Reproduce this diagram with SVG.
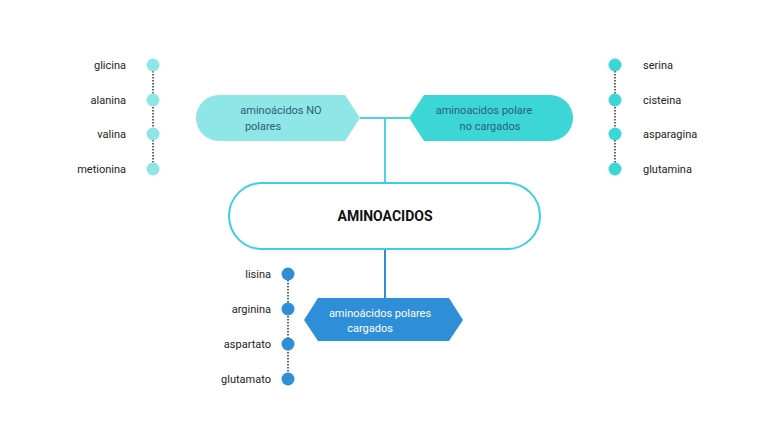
<svg xmlns="http://www.w3.org/2000/svg" width="768" height="433" viewBox="0 0 768 433">
<style>
text{font-family:Roboto,"Liberation Sans",sans-serif;font-size:11px;fill:#222}
.lbl{text-anchor:end}
.in{text-anchor:middle;fill:#2a5f7a}
.dl{stroke:#333;stroke-width:1.5;stroke-dasharray:1.5 1.5}
.c{fill:none;stroke:#4dd3e6;stroke-width:2}
</style>
<rect width="768" height="433" fill="#fff"/>
<g id="connectors">
<path class="c" d="M360 118H409M385 118V183"/>
<path d="M385 249V298" fill="none" stroke="#2e8fd8" stroke-width="2"/>
<path class="dl" d="M153 65V169M615 65V169M288 274V379"/>
</g>
<g id="main"><rect x="229" y="183" width="311" height="66" rx="33" fill="#fff" stroke="#3ccfe2" stroke-width="2"/>
<text x="385" y="221" text-anchor="middle" style="font-size:14px;font-weight:bold;fill:#111">AMINOACIDOS</text></g>
<g id="nopolares"><path d="M219 95H345L360 118L345 141H219A23 23 0 0 1 219 95Z" fill="#8ee6e6"/>
<text class="in" x="281" y="114">aminoácidos NO</text><text class="in" x="263" y="130">polares</text></g>
<g id="polaresnc"><path d="M424 95H550A23 23 0 0 1 550 141H424L409 118Z" fill="#3dd6d6"/>
<text class="in" x="484" y="114">aminoacidos polare</text><text class="in" x="490" y="130">no cargados</text></g>
<g id="cargados"><path d="M304 320L318 298H449L463 320L449 341H318Z" fill="#2e8fd8"/>
<text class="in" x="380" y="317" style="fill:#fff">aminoácidos polares</text><text class="in" x="370" y="332" style="fill:#fff">cargados</text></g>
<g id="left" fill="#8ee6e6">
<circle cx="153" cy="65" r="6.5"/><circle cx="153" cy="100" r="6.5"/><circle cx="153" cy="134" r="6.5"/><circle cx="153" cy="169" r="6.5"/>
<text class="lbl" x="126" y="69">glicina</text><text class="lbl" x="126" y="104">alanina</text><text class="lbl" x="126" y="138">valina</text><text class="lbl" x="126" y="173">metionina</text></g>
<g id="right" fill="#3dd6d6">
<circle cx="615" cy="65" r="6.5"/><circle cx="615" cy="100" r="6.5"/><circle cx="615" cy="134" r="6.5"/><circle cx="615" cy="169" r="6.5"/>
<text x="643" y="69">serina</text><text x="643" y="104">cisteina</text><text x="643" y="138">asparagina</text><text x="643" y="173">glutamina</text></g>
<g id="bottom" fill="#2e8fd8">
<circle cx="288" cy="274" r="6.5"/><circle cx="288" cy="309" r="6.5"/><circle cx="288" cy="344" r="6.5"/><circle cx="288" cy="379" r="6.5"/>
<text class="lbl" x="271" y="278">lisina</text><text class="lbl" x="271" y="313">arginina</text><text class="lbl" x="271" y="348">aspartato</text><text class="lbl" x="271" y="383">glutamato</text></g>
</svg>
